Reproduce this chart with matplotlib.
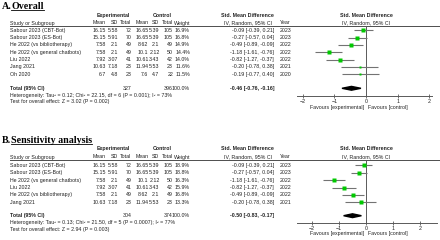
import matplotlib.pyplot as plt
from matplotlib.patches import Polygon

# ---- data: panel A (overall) ----
studies_a = ["Sabour 2023 (CBT-Bot)", "Sabour 2023 (ES-Bot)", "He 2022 (vs bibliotherapy)",
             "He 2022 (vs general chatbots)", "Liu 2022", "Jang 2021", "Oh 2020"]
exp_mean_a = [16.15, 15.15, 7.58, 7.58, 7.92, 10.63, 6.7]
exp_sd_a = [5.58, 5.91, 2.1, 2.1, 3.07, 7.18, 4.8]
exp_n_a = [72, 70, 49, 49, 41, 23, 23]
ctl_mean_a = [16.65, 16.65, 8.62, 10.1, 10.61, 11.94, 7.6]
ctl_sd_a = [5.39, 5.39, 2.1, 2.12, 3.43, 5.53, 4.7]
ctl_n_a = [105, 105, 49, 50, 42, 23, 22]
weight_a = [16.9, 16.8, 14.9, 14.4, 14.0, 11.6, 11.5]
smd_a = [-0.09, -0.27, -0.49, -1.18, -0.82, -0.20, -0.19]
lo_a = [-0.39, -0.57, -0.89, -1.61, -1.27, -0.78, -0.77]
hi_a = [0.21, 0.04, -0.09, -0.76, -0.37, 0.38, 0.40]
year_a = [2023, 2023, 2022, 2022, 2022, 2021, 2020]
total_a = (327, 396, -0.46, -0.76, -0.16)
het_a = "Heterogeneity: Tau² = 0.12; Chi² = 22.15, df = 6 (P = 0.001); I² = 73%"
test_a = "Test for overall effect: Z = 3.02 (P = 0.002)"

# ---- data: panel B (sensitivity analysis) ----
studies_b = ["Sabour 2023 (CBT-Bot)", "Sabour 2023 (ES-Bot)", "He 2022 (vs general chatbots)",
             "Liu 2022", "He 2022 (vs bibliotherapy)", "Jang 2021"]
exp_mean_b = [16.15, 15.15, 7.58, 7.92, 7.58, 10.63]
exp_sd_b = [5.58, 5.91, 2.1, 3.07, 2.1, 7.18]
exp_n_b = [72, 70, 49, 41, 49, 23]
ctl_mean_b = [16.65, 16.65, 10.1, 10.61, 8.62, 11.94]
ctl_sd_b = [5.39, 5.39, 2.12, 3.43, 2.1, 5.53]
ctl_n_b = [105, 105, 50, 42, 49, 23]
weight_b = [18.9, 18.8, 16.3, 15.9, 16.8, 13.3]
smd_b = [-0.09, -0.27, -1.18, -0.82, -0.49, -0.20]
lo_b = [-0.39, -0.57, -1.61, -1.27, -0.89, -0.78]
hi_b = [0.21, 0.04, -0.76, -0.37, -0.09, 0.38]
year_b = [2023, 2023, 2022, 2022, 2022, 2021]
total_b = (304, 374, -0.50, -0.83, -0.17)
het_b = "Heterogeneity: Tau² = 0.13; Chi² = 21.50, df = 5 (P = 0.0007); I² = 77%"
test_b = "Test for overall effect: Z = 2.94 (P = 0.003)"

W, H = 440, 240
FS = 3.8
TXT = "#222222"
plt.rcParams['font.family'] = ['Liberation Sans', 'DejaVu Sans']

fig = plt.figure(figsize=(W / 100, H / 100), dpi=100)
bg = fig.add_axes([0, 0, 1, 1])
bg.set_xlim(0, W)
bg.set_ylim(H, 0)
bg.axis('off')

# right edges of the numeric columns (pixels)
COLS = [106, 118, 131.5, 148.5, 159.5, 173, 190]


def t(x, y, s, ha='left', bold=False, size=FS):
    return bg.text(x, y, s, ha=ha, va='center', fontsize=size, color=TXT,
                   fontweight='bold' if bold else 'normal')


def panel(letter, title, y_title, y_grp, y_head, y_line, y0, dy, y_tot, y_axis,
          ax_left, ax_right, scale, studies, em, es, en, cm, cs, cn, wt, smd, lo, hi, yr,
          total, het, test):
    # title with underline
    bg.text(1.5, y_title, letter, ha='left', va='center', fontsize=7.2,
            family='Liberation Serif', fontweight='bold', color='black')
    tt = bg.text(11, y_title, title, ha='left', va='center', fontsize=7.2,
                 family='Liberation Serif', fontweight='bold', color='black')
    fig.canvas.draw()
    bb = tt.get_window_extent()
    bg.plot([bb.x0, bb.x1], [y_title + 3.9, y_title + 3.9], color='black', lw=0.6)

    # column headers
    t(113, y_grp, "Experimental", ha='center', bold=True)
    t(162, y_grp, "Control", ha='center', bold=True)
    t(247, y_grp, "Std. Mean Difference", ha='center', bold=True)
    t(366, y_grp, "Std. Mean Difference", ha='center', bold=True)
    t(10, y_head, "Study or Subgroup")
    for x, s in zip(COLS, ["Mean", "SD", "Total", "Mean", "SD", "Total", "Weight"]):
        t(x, y_head, s, ha='right')
    t(248, y_head, "IV, Random, 95% CI", ha='center')
    t(280, y_head, "Year")
    t(366, y_head, "IV, Random, 95% CI", ha='center')
    bg.plot([10, W], [y_line, y_line], color='0.3', lw=0.7)

    # study rows
    ys = [y0 + i * dy for i in range(len(studies))]
    for i, y in enumerate(ys):
        t(10, y, studies[i])
        vals = [f"{em[i]:g}", f"{es[i]:g}", f"{en[i]}", f"{cm[i]:g}", f"{cs[i]:g}",
                f"{cn[i]}", f"{wt[i]:.1f}%"]
        for x, s in zip(COLS, vals):
            t(x, y, s, ha='right')
        t(274, y, f"{smd[i]:.2f} [{lo[i]:.2f}, {hi[i]:.2f}]", ha='right')
        t(280, y, f"{yr[i]}")

    n_e, n_c, t_smd, t_lo, t_hi = total
    t(10, y_tot, "Total (95% CI)", bold=True)
    t(COLS[2], y_tot, f"{n_e}", ha='right')
    t(COLS[5], y_tot, f"{n_c}", ha='right')
    t(COLS[6], y_tot, "100.0%", ha='right')
    t(274, y_tot, f"{t_smd:.2f} [{t_lo:.2f}, {t_hi:.2f}]", ha='right', bold=True)
    t(10, y_tot + 7.2, het)
    t(10, y_tot + 13.6, test)

    # forest plot axes
    ax = fig.add_axes([ax_left / W, 1 - y_axis / H, (ax_right - ax_left) / W, (y_axis - y_line) / H])
    ax.patch.set_alpha(0)
    ax.set_xlim((ax_left - 366) / scale, (ax_right - 366) / scale)
    ax.set_ylim(y_axis, y_line)
    for side in ['top', 'right', 'left']:
        ax.spines[side].set_visible(False)
    ax.spines['bottom'].set_color('0.35')
    ax.spines['bottom'].set_linewidth(0.7)
    ax.set_yticks([])
    ax.set_xticks([-2, -1, 0, 1, 2])
    ax.tick_params(axis='x', direction='inout', length=2.5, width=0.6, color='0.35',
                   labelsize=FS, labelcolor=TXT, pad=1)
    ax.axvline(0, color='0.35', lw=0.7)
    ax.hlines(ys, lo, hi, color='0.45', lw=0.8)
    for i, y in enumerate(ys):
        ax.plot(smd[i], y, 's', color='#00c800', mec='none', ms=wt[i] ** 0.5 * 0.6)
    d = Polygon([(t_lo, y_tot), (t_smd, y_tot - 1.9), (t_hi, y_tot), (t_smd, y_tot + 1.9)],
                closed=True, color='black')
    ax.add_patch(d)

    # favours labels
    yf = y_axis + 11
    t(364, yf, "Favours [experimental]", ha='right')
    t(368, yf, "Favours [control]")


panel("A.", "Overall", 6.2, 15.5, 23, 25.5, 30.3, 7.33, 88.3, 96,
      297, 432, 31.6, studies_a, exp_mean_a, exp_sd_a, exp_n_a, ctl_mean_a, ctl_sd_a, ctl_n_a,
      weight_a, smd_a, lo_a, hi_a, year_a, total_a, het_a, test_a)

panel("B.", "Sensitivity analysis", 140.5, 148.5, 157, 159.5, 165.5, 7.35, 215.7, 222.5,
      297, 437, 27, studies_b, exp_mean_b, exp_sd_b, exp_n_b, ctl_mean_b, ctl_sd_b, ctl_n_b,
      weight_b, smd_b, lo_b, hi_b, year_b, total_b, het_b, test_b)

fig.savefig("out.png", dpi=100)
